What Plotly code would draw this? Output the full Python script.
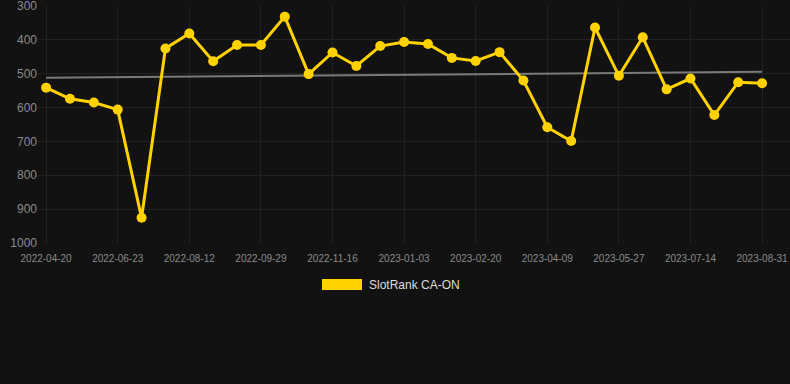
import plotly.graph_objects as go

dates = [
    "2022-04-20", "2022-05-11", "2022-06-01", "2022-06-23", "2022-07-09", "2022-07-25",
    "2022-08-12", "2022-08-28", "2022-09-13", "2022-09-29", "2022-10-15", "2022-10-31",
    "2022-11-16", "2022-12-02", "2022-12-18", "2023-01-03", "2023-01-19", "2023-02-04",
    "2023-02-20", "2023-03-08", "2023-03-24", "2023-04-09", "2023-04-25", "2023-05-11",
    "2023-05-27", "2023-06-12", "2023-06-28", "2023-07-14", "2023-07-30", "2023-08-15",
    "2023-08-31",
]
ranks = [
    541, 574, 585, 606, 926, 425, 381, 463, 415, 415, 331, 501, 437, 477, 418, 406,
    412, 453, 462, 436, 520, 658, 699, 363, 506, 392, 546, 514, 622, 525, 528,
]
trend_values = [512, 494]
tick_labels = dates[::3]
y_ticks = [300, 400, 500, 600, 700, 800, 900, 1000]
series_name = "SlotRank CA-ON"

bg = "#121212"
gold = "#FFD200"
grid = "#222222"

fig = go.Figure()
fig.add_trace(go.Scatter(
    x=[dates[0], dates[-1]], y=trend_values, mode="lines",
    line=dict(color="#7a7a7a", width=2), showlegend=False, hoverinfo="skip",
))
fig.add_trace(go.Scatter(
    x=dates, y=ranks, mode="lines+markers", name=series_name,
    line=dict(color=gold, width=3),
    marker=dict(color=gold, size=10),
    showlegend=False,
))

fig.update_layout(
    width=790, height=384,
    paper_bgcolor=bg, plot_bgcolor=bg,
    margin=dict(l=38, r=0, t=6, b=141),
    font=dict(family="Liberation Sans, Arial, sans-serif", color="#888888"),
    xaxis=dict(
        type="category", range=[-0.34, 31.17],
        categoryorder="array", categoryarray=dates,
        tickmode="array", tickvals=tick_labels, ticktext=tick_labels,
        tickfont=dict(size=10, color="#8a8a8a"),
        ticklabelstandoff=8,
        showgrid=True, gridcolor=grid, gridwidth=1,
        zeroline=False, showline=False, ticks="",
    ),
    yaxis=dict(
        range=[1000.5, 299.5], tickvals=y_ticks,
        tickfont=dict(size=12, color="#8a8a8a"),
        ticklabeloverflow="allow",
        showgrid=True, gridcolor=grid, gridwidth=1,
        zeroline=False, showline=False, ticks="",
    ),
    shapes=[dict(
        type="rect", xref="paper", yref="paper",
        x0=(322 - 38) / 752, x1=(362 - 38) / 752,
        y0=(243 - 290) / 237, y1=(243 - 279) / 237,
        fillcolor=gold, line=dict(width=0),
    )],
    annotations=[dict(
        text=series_name, xref="paper", yref="paper",
        x=(367 - 38) / 752, y=(243 - 284.5) / 237,
        xanchor="left", yanchor="middle", showarrow=False,
        font=dict(size=12, color="#dddddd"),
    )],
)

fig.write_html(
    "out.html",
    config={"displayModeBar": False},
    post_script="document.body.style.margin='0';document.body.style.background='#121212';",
)
